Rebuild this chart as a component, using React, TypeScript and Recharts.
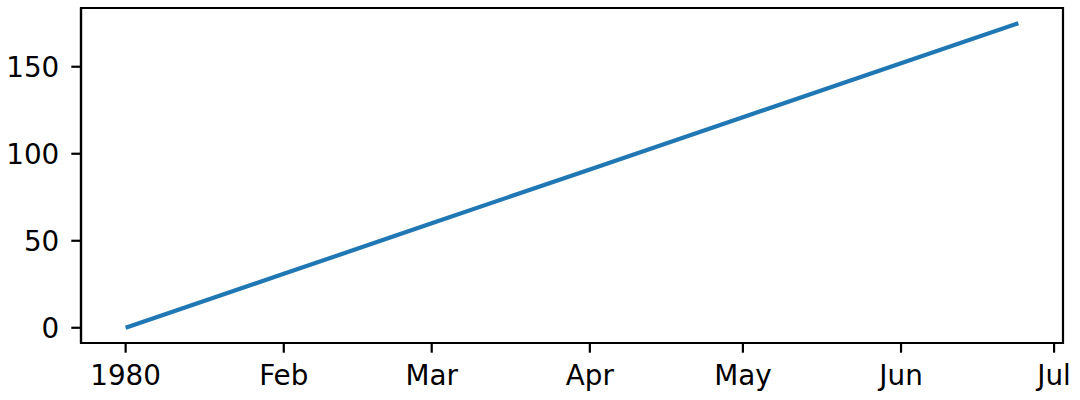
import React from "react";
import { LineChart, Line, XAxis, YAxis, ReferenceArea } from "recharts";

// Days since 1980-01-01 and series values (value equals day index in the reference)
const dayIndex = [0, 31, 60, 91, 121, 152, 175];
const seriesValues = [0, 31, 60, 91, 121, 152, 175];

const xTickDays = [0, 31, 60, 91, 121, 152, 182];
const xTickLabels = ["1980", "Feb", "Mar", "Apr", "May", "Jun", "Jul"];
const yTicks = [0, 50, 100, 150];

const data = dayIndex.map((d, i) => ({ day: d, value: seriesValues[i] }));

const FONT = "DejaVu Sans";
const tickStyle = { fontFamily: FONT, fontSize: 27.8, fill: "#000" };
const DOMAIN: [number, number] = [-8.75, 183.75];

export default function App() {
  const labelFor = (v: number) => {
    const i = xTickDays.indexOf(v);
    return i >= 0 ? xTickLabels[i] : "";
  };
  return (
    <div style={{ position: "absolute", left: 0, top: 0, width: 1080, height: 400, background: "#fff" }}>
      <LineChart width={1080} height={400} data={data} margin={{ top: 8, right: 17, bottom: 0, left: 0 }}>
        <XAxis
          dataKey="day"
          type="number"
          domain={DOMAIN}
          ticks={xTickDays}
          tickFormatter={labelFor}
          interval={0}
          height={57}
          tick={tickStyle}
          tickSize={9.7}
          tickMargin={13}
          axisLine={{ stroke: "#000", strokeWidth: 2.2 }}
          tickLine={{ stroke: "#000", strokeWidth: 2.2 }}
          allowDataOverflow
        />
        <YAxis
          type="number"
          domain={DOMAIN}
          ticks={yTicks}
          interval={0}
          width={81}
          tick={tickStyle}
          tickSize={9.7}
          tickMargin={12}
          axisLine={{ stroke: "#000", strokeWidth: 2.2 }}
          tickLine={{ stroke: "#000", strokeWidth: 2.2 }}
          allowDataOverflow
        />
        <ReferenceArea
          x1={DOMAIN[0]}
          x2={DOMAIN[1]}
          y1={DOMAIN[0]}
          y2={DOMAIN[1]}
          fill="none"
          fillOpacity={0}
          stroke="#000"
          strokeWidth={2.2}
          ifOverflow="visible"
        />
        <Line
          type="linear"
          dataKey="value"
          stroke="#1f77b4"
          strokeWidth={4.2}
          dot={false}
          isAnimationActive={false}
        />
      </LineChart>
    </div>
  );
}
